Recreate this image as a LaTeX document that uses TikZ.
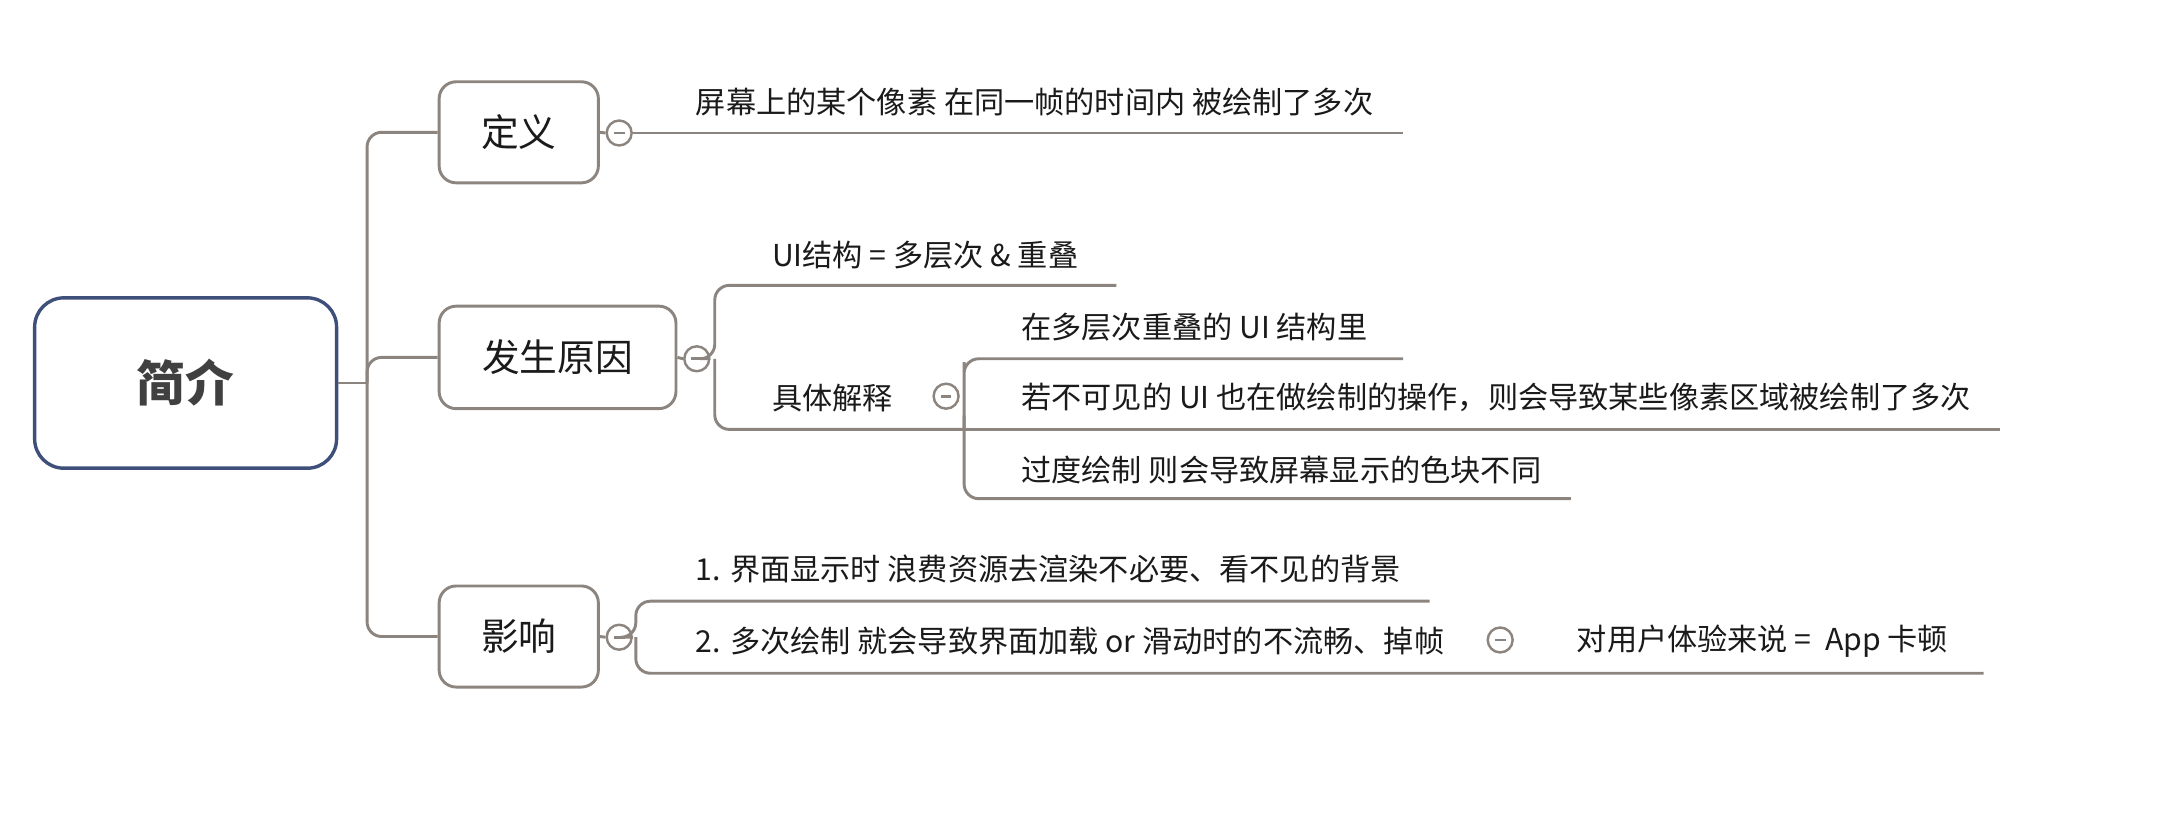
\documentclass[tikz,border=0pt]{standalone}
\usepackage{fontspec}
\newfontfamily\cjk{Noto Sans CJK SC}
\definecolor{ln}{HTML}{8C847E}
\definecolor{rootc}{HTML}{3E4F7A}
\definecolor{txt}{HTML}{1A1A1A}
\begin{document}
\begin{tikzpicture}[x=0.02cm,y=-0.02cm,font=\cjk,text=txt,
  box/.style={draw=ln,line width=1.2pt,rounded corners=7pt,inner sep=0pt,font=\cjk\fontsize{15.5}{18}\selectfont},
  lbl/.style={anchor=west,inner sep=0pt,font=\cjk\fontsize{12.4}{14}\selectfont},
  col/.style={draw=ln,circle,fill=white,line width=1pt,minimum size=0.36cm,inner sep=0pt,
     path picture={\draw[ln,line width=1.2pt] ([xshift=-2.2pt]path picture bounding box.center)--([xshift=2.2pt]path picture bounding box.center);}},
  con/.style={draw=ln,line width=1.2pt,rounded corners=6pt}]
\useasboundingbox (0,0) rectangle (1568,596);
\node[draw=rootc,line width=1.4pt,rounded corners=12pt,minimum width=4.36cm,minimum height=2.46cm,text=black!75,font=\cjk\bfseries\fontsize{20}{24}\selectfont] (root) at (134,276.5) {简介};
\node[box,minimum width=2.3cm,minimum height=1.46cm] (dy) at (374.5,95.5) {定义};
\node[box,minimum width=3.42cm,minimum height=1.48cm] (fs) at (402.5,258) {发生原因};
\node[box,minimum width=2.3cm,minimum height=1.46cm] (yx) at (374.5,459.5) {影响};
\coordinate (j) at (265,276.5);
\draw[con] (root.east) -- (j);
\draw[con] (j) |- (dy.west);
\draw[con] (j) |- (yx.west);
\draw[con] (j) |- (fs.west);
% 定义
\node[col] (c1) at (447,96) {};
\coordinate (e1) at (1013,96);
\draw[con] (dy.east) -- (c1.west);
\draw[con] (c1.east) -- (e1);
\node[lbl] (t1) at (502,74) {屏幕上的某个像素 在同一帧的时间内 被绘制了多次};
% 发生原因
\node[col] (c2) at (503,259) {};
\draw[con] (fs.east) -- (c2.west);
\coordinate (e2a) at (806,206);
\coordinate (e2b) at (696,310);
\draw[con] (c2.east) -- (516,259) |- (e2a);
\draw[con] (516,259) |- (e2b);
\node[lbl] (t2) at (557,184) {UI结构 = 多层次 \& 重叠};
\node[lbl] (t3) at (557,287) {具体解释};
\coordinate (e3a) at (1013,259);
\coordinate (e3b) at (1444,310);
\coordinate (e3c) at (1134,360);
\draw[con] (e2b) -- (e3b);
\draw[con] (696,310) -- (696,272) |- (e3a);
\draw[con] (696,300) |- (e3c);
\node[lbl] (t4) at (737,236) {在多层次重叠的 UI 结构里};
\node[lbl] (t5) at (737,287) {若不可见的 UI 也在做绘制的操作，则会导致某些像素区域被绘制了多次};
\node[lbl] (t6) at (737,339) {过度绘制 则会导致屏幕显示的色块不同};
\node[col] (c3) at (683,286) {};
% 影响
\node[col] (c4) at (447,460) {};
\draw[con] (yx.east) -- (c4.west);
\coordinate (e4a) at (1032,434);
\coordinate (e4b) at (1432,486);
\draw[con] (c4.east) -- (459,460) |- (e4a);
\draw[con] (459,460) |- (e4b);
\node[lbl] (t7) at (502,411) {1. 界面显示时 浪费资源去渲染不必要、看不见的背景};
\node[lbl] (t8) at (502,463) {2. 多次绘制 就会导致界面加载 or 滑动时的不流畅、掉帧};
\node[col] (c5) at (1083,462) {};
\node[lbl] (t9) at (1138,463) {对用户体验来说 =\ \ App 卡顿};
\end{tikzpicture}
\end{document}
